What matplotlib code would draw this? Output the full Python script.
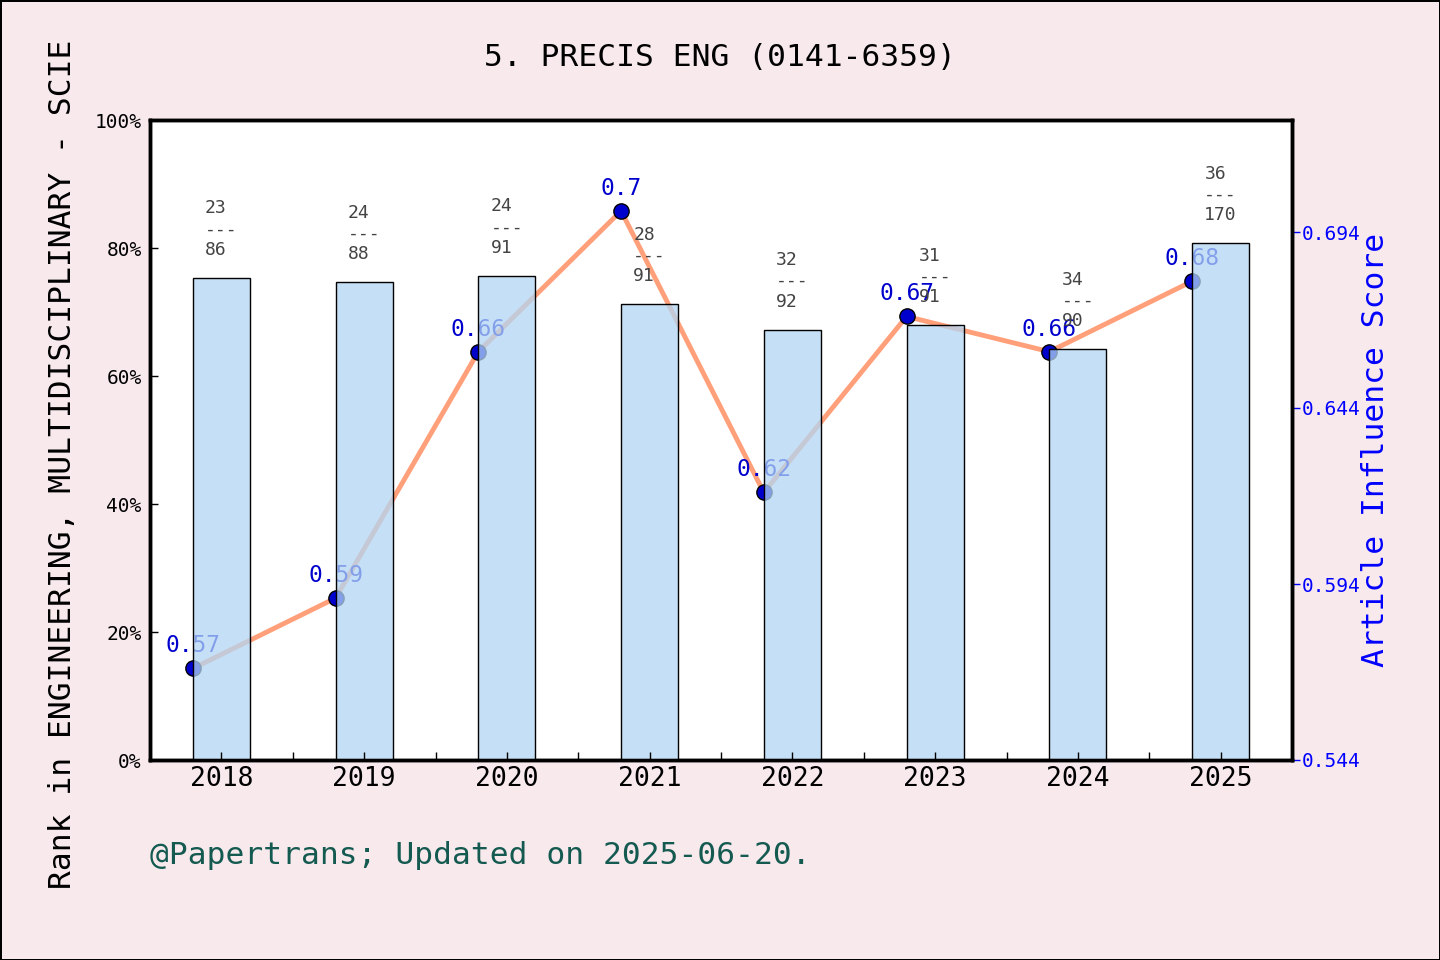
import numpy as np
import matplotlib
matplotlib.use('Agg')
import matplotlib.pyplot as plt
from matplotlib.ticker import FixedLocator, FuncFormatter

# Donnees
annees = ['2018', '2019', '2020', '2021', '2022', '2023', '2024', '2025']
rangs = [23, 24, 24, 28, 32, 31, 34, 36]
totaux = [86, 88, 91, 91, 92, 91, 90, 170]
hauteurs = [0.7527, 0.7464, 0.7558, 0.7120, 0.6719, 0.6792, 0.6417, 0.8073]
ais = [0.57, 0.59, 0.66, 0.70, 0.62, 0.67, 0.66, 0.68]
ticks_droite = [0.544, 0.594, 0.644, 0.694]

mono = 'DejaVu Sans Mono'
plt.rcParams['font.family'] = mono

fig = plt.figure(figsize=(14.4, 9.6), dpi=100, facecolor='#f7e9ec',
                 edgecolor='black', linewidth=2)
ax = fig.add_axes([150/1440, 1-760/960, (1292-150)/1440, 640/960])
ax2 = ax.twinx()

# barres au-dessus de la courbe
ax.set_zorder(2)
ax2.set_zorder(1)
ax.patch.set_visible(False)
ax2.patch.set_visible(True)
ax2.patch.set_facecolor('white')

x = np.arange(len(annees))

# Courbe AIS (axe droit)
ax2.plot(x, ais, color='#ffa07a', linewidth=3.5, marker='o', markersize=11,
         markerfacecolor='#0000cd', markeredgecolor='black', markeredgewidth=1)
for xi, v in zip(x, ais):
    ax2.annotate(f'{v:g}', (xi, v), xytext=(0, 8), textcoords='offset points',
                 ha='center', va='bottom', fontsize=16.5, color='#0000cd')
ax2.set_ylim(0.544, 0.544 + 0.05 * 640 / 176)
ax2.yaxis.set_major_locator(FixedLocator(ticks_droite))
ax2.yaxis.set_major_formatter(FuncFormatter(lambda v, p: f'{v:.3f}'))
ax2.tick_params(axis='y', direction='out', length=6, width=1, colors='blue',
                labelsize=14, pad=1)

# Barres du rang (axe gauche), face translucide, bord noir
ax.bar(x, hauteurs, width=0.4, align='edge',
       facecolor=(178/255, 214/255, 244/255, 0.75),
       edgecolor='black', linewidth=1)
for xi, h, r, t in zip(x, hauteurs, rangs, totaux):
    ax.text(xi + 0.2, h + 0.03, f'{r}\n---\n{t}', ha='center', va='bottom',
            multialignment='left', fontsize=13, color='#444444')

ax.set_xlim(-0.3, 7.7)
ax.set_ylim(0, 1)
ax.set_xticks(x + 0.2)
ax.set_xticklabels(annees)
ax.set_xticks(x[:-1] + 0.7, minor=True)
ax.set_yticks([0, 0.2, 0.4, 0.6, 0.8, 1.0])
ax.yaxis.set_major_formatter(FuncFormatter(lambda v, p: f'{v:.0%}'))
ax.tick_params(axis='y', direction='in', length=6, width=1, labelsize=14, pad=6)
ax.tick_params(axis='x', which='both', direction='in', length=6, width=1,
               labelsize=19, pad=4)

for a in (ax, ax2):
    for s in a.spines.values():
        s.set_linewidth(2.5)

# Textes
fig.text(0.5, 1 - 57/960, '5. PRECIS ENG (0141-6359)', ha='center', va='center',
         fontsize=22.5, color='black')
fig.text(63/1440, 1 - 464/960, 'Rank in ENGINEERING, MULTIDISCIPLINARY - SCIE',
         rotation=90, ha='center', va='center', fontsize=22.5, color='black')
fig.text(1375/1440, 1 - 450/960, 'Article Influence Score', rotation=90,
         ha='center', va='center', fontsize=22.5, color='blue')
fig.text(150/1440, 1 - 855/960, '@Papertrans; Updated on 2025-06-20.',
         ha='left', va='center', fontsize=22.5, color='#145a50')

fig.savefig('out.png', dpi=100, facecolor=fig.get_facecolor(),
            edgecolor=fig.get_edgecolor())
